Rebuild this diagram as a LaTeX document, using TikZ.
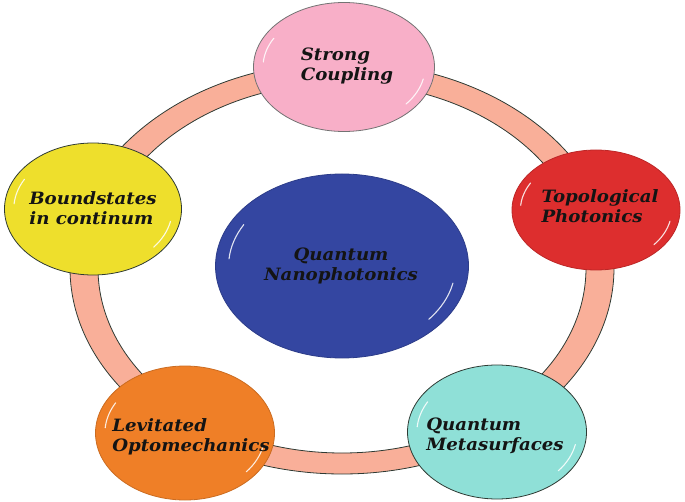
\documentclass[tikz,border=0pt]{standalone}
\usepackage{fontspec}
\newfontfamily\lblfont[FakeStretch=1.07]{DejaVu Serif}
\usetikzlibrary{shapes.geometric}
\definecolor{bandc}{HTML}{F9AF99}
\definecolor{pinkc}{HTML}{F8AFC8}
\definecolor{redc}{HTML}{DD2E2E}
\definecolor{yellowc}{HTML}{EEDF2C}
\definecolor{bluec}{HTML}{3446A1}
\definecolor{tealc}{HTML}{8FE0D7}
\definecolor{orangec}{HTML}{EF7F27}
\definecolor{edgec}{HTML}{2E3A33}
\newcommand\glossarcs[3]{%
  \begin{scope}[shift={(#1.center)},x=1pt,y=1pt]
    \draw[gloss] (150:0.9*#2 and 0.9*#3) arc[start angle=150, end angle=175, x radius=0.9*#2, y radius=0.9*#3];
    \draw[gloss] (-12:0.9*#2 and 0.9*#3) arc[start angle=-12, end angle=-40, x radius=0.9*#2, y radius=0.9*#3];
  \end{scope}}
\begin{document}
\begin{tikzpicture}[x=1pt,y=-1pt,
  bubble/.style={ellipse, draw=edgec, line width=0.8pt, inner sep=0pt},
  lbl/.style={font=\lblfont\bfseries\itshape\fontsize{17}{20.5}\selectfont, align=left, text=black!92, inner sep=0pt},
  gloss/.style={white, line width=1.1pt, line cap=round, opacity=0.85},
  ringline/.style={draw=edgec, line width=0.8pt}]
\useasboundingbox (0,0) rectangle (685,502);
% ring band
\fill[bandc, even odd rule] (342,268) ellipse [x radius=272pt, y radius=206pt]
                            (342,268) ellipse [x radius=244pt, y radius=185pt];
\draw[ringline] (342,268) ellipse [x radius=272pt, y radius=206pt];
\draw[ringline] (342,268) ellipse [x radius=244pt, y radius=185pt];
% bubbles
\node[bubble, fill=pinkc, draw=black!55, minimum width=181pt, minimum height=129pt] (sc) at (344,67) {};
\node[bubble, fill=redc, draw=redc!85!black, minimum width=168pt, minimum height=120pt] (tp) at (596,210) {};
\node[bubble, fill=yellowc, minimum width=177pt, minimum height=132pt] (bs) at (93,209) {};
\node[bubble, fill=bluec, draw=bluec!85!black, minimum width=253pt, minimum height=184pt] (qn) at (342,266) {};
\node[bubble, fill=tealc, minimum width=179pt, minimum height=134pt] (qm) at (497,432) {};
\node[bubble, fill=orangec, draw=orangec!85!black, minimum width=179pt, minimum height=134pt] (lo) at (185,433) {};
% highlights
\glossarcs{sc}{90}{64}
\glossarcs{tp}{84}{60}
\glossarcs{bs}{88}{66}
\glossarcs{qn}{126}{92}
\glossarcs{qm}{89}{67}
\glossarcs{lo}{89}{67}
% labels
\node[lbl] (sct) at (347,66) {Strong\\Coupling};
\node[lbl] (tpt) at (600,206) {Topological\\Photonics};
\node[lbl] (bst) at (93,208) {Boundstates\\in continum};
\node[lbl, align=center] (qnt) at (341,266) {Quantum\\Nanophotonics};
\node[lbl] (qmt) at (495,436) {Quantum\\Metasurfaces};
\node[lbl] (lot) at (191,437) {Levitated\\Optomechanics};
\end{tikzpicture}
\end{document}
